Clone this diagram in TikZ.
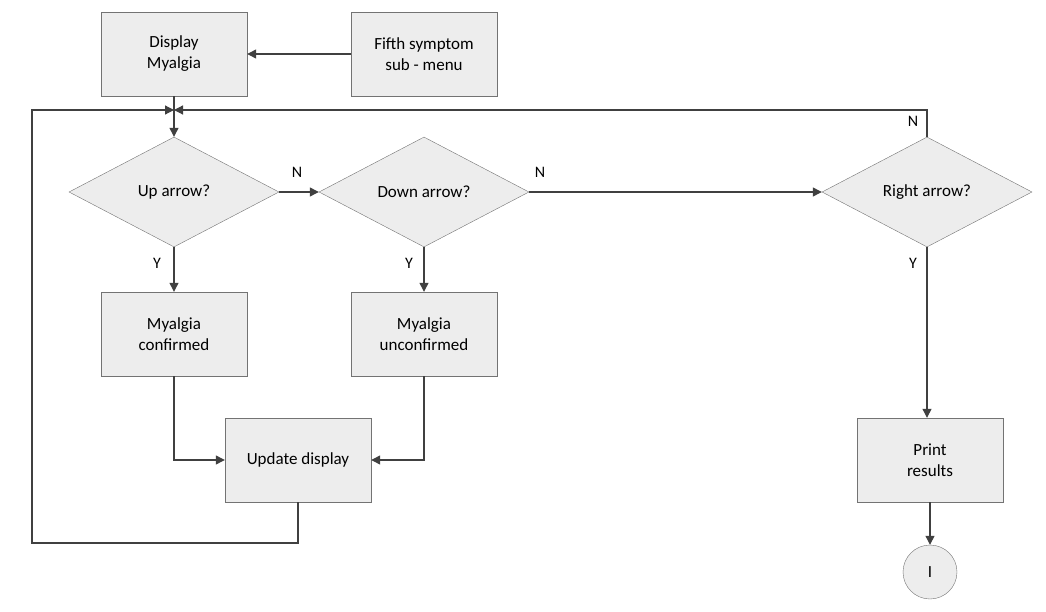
\documentclass[tikz,border=0pt]{standalone}
\usepackage{fontspec}
\setmainfont{Carlito}
\usetikzlibrary{shapes.geometric,arrows.meta}
\begin{document}
\begin{tikzpicture}[x=1pt,y=-1pt,
  box/.style={draw=black!55,fill=black!7,minimum width=146pt,minimum height=84pt,align=center,font=\fontsize{17}{21}\selectfont},
  dia/.style={draw=black!55,fill=black!7,diamond,aspect=1.9,minimum width=210pt,minimum height=110pt,inner sep=0pt,font=\fontsize{17}{21}\selectfont},
  lab/.style={font=\fontsize{16}{20}\selectfont},
  arr/.style={draw=black!75,line width=1.2pt,-{Triangle[length=9pt,width=9pt]}},
  ln/.style={draw=black!75,line width=1.2pt}]
\useasboundingbox (0,0) rectangle (1046,612);
\node[box] (disp) at (174,54) {Display\\Myalgia};
\node[box] (fifth) at (424,54) {Fifth symptom\\sub - menu};
\node[dia] (up) at (174,192) {Up arrow?};
\node[dia] (down) at (424,192) {Down arrow?};
\node[dia] (right) at (927,192) {Right arrow?};
\node[box] (conf) at (174,334) {Myalgia\\confirmed};
\node[box] (unconf) at (424,334) {Myalgia\\unconfirmed};
\node[box] (upd) at (298,460) {Update display};
\node[box] (print) at (930,460) {Print\\results};
\node[draw=black!55,fill=black!7,circle,minimum size=54pt,font=\fontsize{17}{21}\selectfont] (end) at (930,572) {I};
\coordinate (j) at (174,110);
\draw[arr] (fifth) -- (disp);
\draw[ln] (disp) -- (j);
\draw[arr] (j) -- (up.north);
\draw[arr] (up.east) -- (down.west);
\draw[arr] (down.east) -- (right.west);
\draw[arr] (up.south) -- (conf);
\draw[arr] (down.south) -- (unconf);
\draw[arr] (right.south) -- (print.north -| right.south);
\draw[arr] (print) -- (end);
\draw[arr] (conf.south) |- (upd.west);
\draw[arr] (unconf.south) |- (upd.east);
\draw[arr] (upd.south -| 298,0) -- (298,543) -- (32,543) -- (32,110) -- (j);
\draw[arr] (right.north) -- (927,110) -- (j);
\node[lab] at (297,172) {N};
\node[lab] at (540,172) {N};
\node[lab] at (157,263) {Y};
\node[lab] at (409,263) {Y};
\node[lab] at (913,263) {Y};
\node[lab] at (913,121) {N};
\end{tikzpicture}
\end{document}
